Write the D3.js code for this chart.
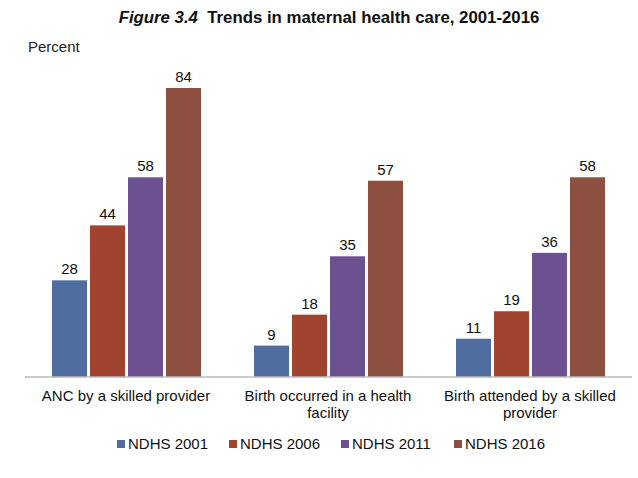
<!DOCTYPE html>
<html><head><meta charset="utf-8">
<script src="https://cdn.jsdelivr.net/npm/d3@7"></script>
<style>body{margin:0;background:#fff}svg{display:block;font-family:"Liberation Sans",Arial,sans-serif}</style>
</head><body>
<svg id="c" width="638" height="478"></svg>
<script>
const categories = [["ANC by a skilled provider"], ["Birth occurred in a health", "facility"], ["Birth attended by a skilled", "provider"]];
const categoryKeys = ["ANC", "Facility", "Attended"];
const seriesNames = ["NDHS 2001", "NDHS 2006", "NDHS 2011", "NDHS 2016"];
const values2001 = [28, 9, 11];
const values2006 = [44, 18, 19];
const values2011 = [58, 35, 36];
const values2016 = [84, 57, 58];
const colors = ["#4f6d9f", "#a0442f", "#6b5190", "#8d4f40"];

const seriesValues = [values2001, values2006, values2011, values2016];
const svg = d3.select("#c");
const baseY = 376.5;
const y = d3.scaleLinear().domain([0, 84]).range([baseY, 88]);
const x0 = d3.scaleBand().domain(categoryKeys).range([25, 631]).paddingInner(0).paddingOuter(0);
const x1 = d3.scaleBand().domain(seriesNames).range([27, 176]).paddingInner(3/38).paddingOuter(0);

// title
const t = svg.append("text").attr("x", 329).attr("y", 23).attr("text-anchor", "middle")
  .attr("font-size", 16.8).attr("font-weight", "bold").attr("fill", "#111");
t.append("tspan").attr("font-style", "italic").text("Figure 3.4");
t.append("tspan").text("\u00a0 Trends in maternal health care, 2001-2016");

svg.append("text").attr("x", 28).attr("y", 52).attr("font-size", 15).attr("fill", "#222").text("Percent");

const g = svg.append("g");
categoryKeys.forEach((ck, ci) => {
  seriesNames.forEach((s, si) => {
    const v = seriesValues[si][ci];
    const bx = x0(ck) + x1(s);
    g.append("rect").attr("x", bx).attr("y", y(v)).attr("width", x1.bandwidth())
      .attr("height", baseY - y(v)).attr("fill", colors[si]);
    g.append("text").attr("x", bx + x1.bandwidth() / 2).attr("y", y(v) - 6)
      .attr("text-anchor", "middle").attr("font-size", 15).attr("fill", "#111").text(v);
  });
  const lab = svg.append("text").attr("text-anchor", "middle").attr("font-size", 15).attr("fill", "#111");
  categories[ci].forEach((line, li) => {
    lab.append("tspan").attr("x", x0(ck) + x0.bandwidth() / 2).attr("y", 400.5 + li * 17.5).text(line);
  });
});

svg.append("line").attr("x1", 25).attr("x2", 632).attr("y1", baseY + 0.5).attr("y2", baseY + 0.5)
  .attr("stroke", "#9a9a9a").attr("stroke-width", 1.2);

// legend
const legX = [117, 229, 341, 454];
seriesNames.forEach((s, i) => {
  svg.append("rect").attr("x", legX[i]).attr("y", 440).attr("width", 8).attr("height", 8).attr("fill", colors[i]);
  svg.append("text").attr("x", legX[i] + 11).attr("y", 449).attr("font-size", 15).attr("fill", "#111").text(s);
});
</script>
</body></html>
